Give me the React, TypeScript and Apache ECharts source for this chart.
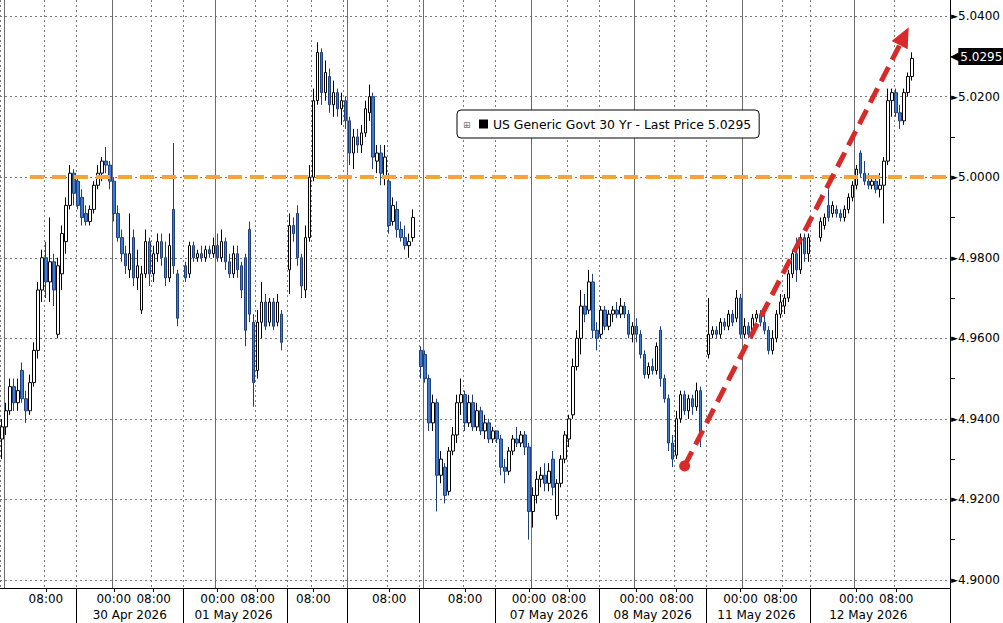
import React, { useEffect, useRef } from "react";
import * as echarts from "echarts";

const SERIES_NAME = "US Generic Govt 30 Yr - Last Price 5.0295";
const FONT = "DejaVu Sans";
const SLOT_COUNT = 238;

// candles: [open, close, low, high]
const session29Apr: number[][] = [
  [4.935, 4.938, 4.93, 4.94], [4.938, 4.942, 4.936, 4.944], [4.942, 4.948, 4.941, 4.95],
  [4.948, 4.944, 4.942, 4.95], [4.944, 4.947, 4.942, 4.95], [4.952, 4.945, 4.944, 4.954],
  [4.945, 4.942, 4.939, 4.947], [4.942, 4.949, 4.941, 4.951], [4.949, 4.957, 4.948, 4.959],
  [4.957, 4.972, 4.955, 4.974], [4.972, 4.98, 4.969, 4.982], [4.98, 4.974, 4.97, 4.984],
  [4.974, 4.979, 4.969, 4.99], [4.979, 4.972, 4.968, 4.981], [4.961, 4.978, 4.96, 4.98],
  [4.976, 4.986, 4.972, 4.988], [4.984, 4.993, 4.981, 4.995], [4.993, 5.001, 4.992, 5.003],
  [5.001, 4.996, 4.993, 5.002], [4.999, 4.993, 4.992, 5.0], [4.995, 4.99, 4.988, 4.997],
  [4.991, 4.989, 4.988, 4.993], [4.989, 4.992, 4.988, 4.993], [4.992, 4.998, 4.991, 4.999],
  [4.998, 5.001, 4.997, 5.003], [5.001, 5.004, 4.999, 5.005], [5.004, 5.003, 5.001, 5.0075],
  [5.003, 4.999, 4.997, 5.004], [4.999, 4.991, 4.989, 5.0], [4.991, 4.985, 4.984, 4.993],
  [4.985, 4.981, 4.979, 4.987], [4.981, 4.978, 4.976, 4.983], [4.977, 4.981, 4.975, 4.991],
  [4.985, 4.975, 4.973, 4.987], [4.975, 4.978, 4.972, 4.982], [4.967, 4.976, 4.966, 4.978],
  [4.976, 4.984, 4.975, 4.987], [4.984, 4.976, 4.973, 4.985], [4.976, 4.981, 4.974, 4.983],
  [4.981, 4.984, 4.979, 4.986], [4.984, 4.98, 4.978, 4.986], [4.98, 4.975, 4.973, 4.984],
  [4.975, 4.983, 4.974, 4.986], [4.992, 4.978, 4.976, 5.0085], [4.976, 4.965, 4.963, 4.977],
];
const session01May: number[][] = [
  [4.978, 4.975, 4.974, 4.979], [4.976, 4.983, 4.975, 4.984], [4.983, 4.98, 4.979, 4.984],
  [4.98, 4.981, 4.979, 4.982], [4.981, 4.98, 4.979, 4.983], [4.98, 4.982, 4.979, 4.983],
  [4.982, 4.981, 4.98, 4.983], [4.981, 4.983, 4.98, 4.985], [4.983, 4.98, 4.979, 4.986],
  [4.98, 4.984, 4.979, 4.987], [4.984, 4.979, 4.977, 4.985], [4.979, 4.976, 4.975, 4.981],
  [4.976, 4.981, 4.975, 4.983], [4.981, 4.977, 4.975, 4.983], [4.978, 4.972, 4.97, 4.979],
  [4.98, 4.962, 4.958, 4.981], [4.987, 4.966, 4.964, 4.989], [4.964, 4.949, 4.943, 4.966],
  [4.952, 4.964, 4.95, 4.967], [4.964, 4.969, 4.96, 4.974], [4.969, 4.963, 4.962, 4.971],
  [4.964, 4.969, 4.963, 4.97], [4.969, 4.963, 4.962, 4.97], [4.964, 4.969, 4.963, 4.971],
  [4.966, 4.959, 4.957, 4.967],
];
const session04May: number[][] = [
  [4.977, 4.988, 4.971, 4.991], [4.988, 4.986, 4.984, 4.99], [4.991, 4.98, 4.978, 4.993],
  [4.98, 4.973, 4.97, 4.981], [4.972, 4.985, 4.97, 4.988], [4.985, 5.0, 4.984, 5.003],
  [5.0, 5.019, 4.999, 5.022], [5.019, 5.031, 5.018, 5.0335], [5.031, 5.021, 5.018, 5.032],
  [5.021, 5.026, 5.019, 5.029], [5.025, 5.018, 5.016, 5.027], [5.018, 5.021, 5.015, 5.024],
  [5.021, 5.017, 5.015, 5.022], [5.017, 5.019, 5.013, 5.021], [5.019, 5.014, 5.012, 5.02],
  [5.014, 5.006, 5.003, 5.015], [5.006, 5.01, 5.002, 5.012], [5.01, 5.008, 5.006, 5.012],
  [5.008, 5.011, 5.006, 5.013], [5.011, 5.017, 5.01, 5.019], [5.016, 5.02, 5.014, 5.023],
  [5.02, 5.005, 5.002, 5.021], [5.004, 5.006, 5.001, 5.008], [5.006, 5.001, 4.998, 5.008],
  [5.0, 5.005, 4.998, 5.008], [4.999, 4.988, 4.986, 5.001], [4.989, 4.993, 4.988, 4.995],
  [4.992, 4.987, 4.985, 4.994], [4.987, 4.985, 4.984, 4.989], [4.985, 4.983, 4.982, 4.988],
  [4.983, 4.984, 4.98, 4.986], [4.985, 4.99, 4.984, 4.992],
];
const session06May: number[][] = [
  [4.957, 4.953, 4.95, 4.958], [4.956, 4.95, 4.949, 4.957], [4.95, 4.939, 4.937, 4.951],
  [4.939, 4.944, 4.937, 4.946], [4.944, 4.926, 4.917, 4.945], [4.926, 4.93, 4.924, 4.932],
  [4.928, 4.921, 4.919, 4.929], [4.922, 4.932, 4.921, 4.933], [4.932, 4.936, 4.931, 4.938],
  [4.936, 4.944, 4.934, 4.946], [4.944, 4.946, 4.941, 4.95], [4.946, 4.939, 4.937, 4.947],
  [4.939, 4.944, 4.938, 4.946], [4.944, 4.938, 4.937, 4.946], [4.938, 4.942, 4.937, 4.944],
  [4.942, 4.937, 4.936, 4.943], [4.937, 4.939, 4.935, 4.941], [4.939, 4.935, 4.934, 4.94],
  [4.935, 4.937, 4.934, 4.938], [4.937, 4.935, 4.934, 4.937], [4.935, 4.928, 4.926, 4.936],
  [4.928, 4.927, 4.924, 4.93], [4.927, 4.932, 4.926, 4.933], [4.932, 4.935, 4.931, 4.936],
  [4.935, 4.934, 4.933, 4.938], [4.934, 4.936, 4.933, 4.937], [4.936, 4.933, 4.931, 4.937],
  [4.933, 4.917, 4.91, 4.934], [4.917, 4.921, 4.913, 4.923], [4.921, 4.925, 4.919, 4.927],
  [4.925, 4.926, 4.923, 4.928], [4.926, 4.924, 4.922, 4.929], [4.924, 4.927, 4.922, 4.929],
  [4.93, 4.923, 4.921, 4.932], [4.916, 4.924, 4.915, 4.925], [4.924, 4.93, 4.923, 4.931],
  [4.93, 4.936, 4.929, 4.937], [4.935, 4.94, 4.933, 4.941], [4.941, 4.953, 4.94, 4.955],
  [4.953, 4.96, 4.952, 4.962], [4.96, 4.968, 4.956, 4.972], [4.968, 4.966, 4.964, 4.971],
  [4.967, 4.974, 4.966, 4.977], [4.974, 4.962, 4.96, 4.976], [4.962, 4.96, 4.957, 4.964],
  [4.961, 4.967, 4.96, 4.968], [4.967, 4.963, 4.962, 4.968], [4.963, 4.966, 4.962, 4.967],
  [4.966, 4.967, 4.964, 4.968], [4.967, 4.966, 4.965, 4.969], [4.966, 4.968, 4.965, 4.97],
  [4.968, 4.966, 4.965, 4.969], [4.966, 4.961, 4.96, 4.967], [4.961, 4.963, 4.959, 4.964],
  [4.963, 4.961, 4.959, 4.965], [4.961, 4.956, 4.955, 4.962], [4.956, 4.951, 4.95, 4.957],
  [4.951, 4.953, 4.95, 4.954], [4.953, 4.952, 4.951, 4.955], [4.952, 4.958, 4.951, 4.959],
  [4.962, 4.95, 4.948, 4.963], [4.95, 4.945, 4.944, 4.951], [4.945, 4.934, 4.932, 4.946],
  [4.934, 4.93, 4.928, 4.936], [4.931, 4.94, 4.93, 4.942], [4.94, 4.946, 4.939, 4.947],
  [4.946, 4.942, 4.941, 4.947], [4.942, 4.945, 4.94, 4.946], [4.945, 4.943, 4.941, 4.946],
  [4.943, 4.947, 4.942, 4.949], [4.947, 4.936, 4.933, 4.948],
];
const session11May: number[][] = [
  [4.956, 4.961, 4.955, 4.97], [4.961, 4.962, 4.96, 4.963], [4.962, 4.961, 4.96, 4.963],
  [4.961, 4.964, 4.96, 4.965], [4.964, 4.963, 4.962, 4.965], [4.963, 4.966, 4.962, 4.967],
  [4.966, 4.964, 4.963, 4.967], [4.965, 4.97, 4.964, 4.972], [4.97, 4.961, 4.96, 4.971],
  [4.961, 4.963, 4.96, 4.965], [4.963, 4.961, 4.96, 4.964], [4.961, 4.965, 4.96, 4.966],
  [4.965, 4.966, 4.964, 4.967], [4.966, 4.964, 4.963, 4.967], [4.964, 4.962, 4.961, 4.966],
  [4.962, 4.957, 4.956, 4.963], [4.957, 4.96, 4.956, 4.962], [4.96, 4.966, 4.959, 4.967],
  [4.966, 4.969, 4.965, 4.971], [4.968, 4.97, 4.966, 4.971], [4.97, 4.976, 4.969, 4.977],
  [4.976, 4.981, 4.975, 4.982], [4.981, 4.977, 4.974, 4.985], [4.977, 4.985, 4.976, 4.986],
  [4.985, 4.981, 4.979, 4.986], [4.981, 4.985, 4.979, 4.986],
];
const session12May: number[][] = [
  [4.985, 4.989, 4.984, 4.99], [4.988, 4.99, 4.987, 4.991], [4.993, 4.99, 4.989, 4.997],
  [4.991, 4.993, 4.99, 4.994], [4.992, 4.991, 4.99, 4.993], [4.991, 4.99, 4.989, 4.992],
  [4.99, 4.992, 4.989, 4.993], [4.992, 4.995, 4.991, 4.996], [4.995, 4.998, 4.994, 4.999],
  [4.998, 5.002, 4.997, 5.003], [5.006, 5.001, 5.0, 5.0067], [5.001, 4.999, 4.998, 5.004],
  [4.999, 4.998, 4.997, 5.001], [4.998, 4.999, 4.997, 5.0], [4.999, 4.997, 4.996, 5.0],
  [4.997, 4.998, 4.995, 5.001], [4.998, 5.004, 4.9885, 5.005], [5.004, 5.019, 5.003, 5.022],
  [5.019, 5.021, 5.015, 5.022], [5.021, 5.016, 5.015, 5.022], [5.016, 5.014, 5.012, 5.018],
  [5.014, 5.021, 5.013, 5.022], [5.021, 5.025, 5.02, 5.026], [5.025, 5.0295, 5.024, 5.031],
];

const sessions = [session29Apr, session01May, session04May, session06May, session11May, session12May];
const sessionStartSlots = [0, 46, 72, 105, 177, 205];

const timeLabelSlots = [11, 28, 38, 54, 64, 78, 97, 116, 132, 142, 159, 169, 185, 195, 214, 224];
const timeLabelTexts = ["08:00", "00:00", "08:00", "00:00", "08:00", "08:00", "08:00", "08:00", "00:00", "08:00", "00:00", "08:00", "00:00", "08:00", "00:00", "08:00"];
const dateLabelSlots = [32, 58, 137, 163, 189, 217];
const dateLabelTexts = ["30 Apr 2026", "01 May 2026", "07 May 2026", "08 May 2026", "11 May 2026", "12 May 2026"];

const midnightLineSlots = [1, 28, 54, 87, 106, 133, 159, 186, 214];
const dottedLineSlots = [0, 11, 19, 38, 46, 64, 72, 78, 86, 97, 105, 116, 124, 142, 150, 169, 177, 196, 203, 224];
const separatorSlots = [19, 46, 72, 87, 105, 124, 150, 177, 203];

const Y_MIN = 4.898;
const Y_MAX = 5.044;
const referenceLevel = 5.0;
const referenceFromSlot = 7;
const referenceToSlot = 237;
const lastPrice = 5.0295;
const arrowFrom = [171, 4.9283];
const arrowTo = [226, 5.035];

function buildOption() {
  const categories = Array.from({ length: SLOT_COUNT }, (_, i) => String(i));
  const candles: any[] = Array.from({ length: SLOT_COUNT }, () => "-");
  sessions.forEach((s, k) => {
    s.forEach((c, j) => {
      candles[sessionStartSlots[k] + j] = c;
    });
  });
  const labelMap = new Map<number, string>();
  timeLabelSlots.forEach((s, i) => labelMap.set(s, timeLabelTexts[i]));
  dateLabelSlots.forEach((s, i) => labelMap.set(s, "\n" + dateLabelTexts[i]));
  // blank end label so that no real label is treated as the axis' last label
  labelMap.set(SLOT_COUNT - 1, "");

  const isMajor = (v: number) => Math.abs(v * 50 - Math.round(v * 50)) < 1e-6;

  return {
    animation: false,
    backgroundColor: "#ffffff",
    textStyle: { fontFamily: FONT },
    grid: { left: 0, right: 50, top: 0, bottom: 35, containLabel: false },
    legend: {
      show: true,
      left: 457,
      top: 110,
      selectedMode: false,
      data: [{ name: SERIES_NAME, icon: "rect", itemStyle: { color: "#000000", borderWidth: 0 } }],
      itemWidth: 9,
      itemHeight: 9,
      textStyle: { fontFamily: FONT, fontSize: 12.4, color: "#000" },
      backgroundColor: "#ffffff",
      borderColor: "#000000",
      borderWidth: 1,
      borderRadius: 4,
      padding: [8, 8, 8, 22],
    },
    graphic: [
      {
        type: "text",
        left: 463,
        top: 120,
        z: 100,
        style: { text: "⊞", font: `9px '${FONT}'`, fill: "#777777" },
      },
    ],
    xAxis: [
      {
        type: "category",
        data: categories,
        position: "bottom",
        boundaryGap: true,
        axisLine: { show: true, lineStyle: { color: "#000", width: 1 } },
        axisTick: {
          show: true,
          alignWithLabel: true,
          length: 4,
          interval: (i: number) => timeLabelSlots.includes(i),
          lineStyle: { color: "#000" },
        },
        axisLabel: {
          show: true,
          interval: (i: number) => labelMap.has(i),
          formatter: (_v: string, i: number) => labelMap.get(i) || "",
          fontFamily: FONT,
          fontSize: 12,
          color: "#000",
          margin: 3,
          lineHeight: 16,
        },
        splitLine: {
          show: true,
          interval: (i: number) => midnightLineSlots.includes(i),
          lineStyle: { color: "#6b6b6b", width: 1, type: "solid" },
        },
      },
      {
        type: "category",
        data: categories,
        position: "bottom",
        boundaryGap: true,
        axisLine: { show: false },
        axisLabel: { show: false },
        axisTick: {
          show: true,
          alignWithLabel: false,
          length: 35,
          interval: (i: number) => separatorSlots.includes(i),
          lineStyle: { color: "#000" },
        },
        splitLine: {
          show: true,
          interval: (i: number) => dottedLineSlots.includes(i),
          lineStyle: { color: "#7a7a7a", width: 1, type: [2, 3] },
        },
      },
    ],
    yAxis: {
      type: "value",
      position: "right",
      min: Y_MIN,
      max: Y_MAX,
      splitNumber: 7,
      minInterval: 0.02,
      maxInterval: 0.02,
      axisLine: { show: true, lineStyle: { color: "#000", width: 1 } },
      axisTick: { show: false },
      minorTick: { show: true, splitNumber: 2, length: 5, lineStyle: { color: "#000" } },
      axisLabel: {
        show: true,
        margin: 1,
        showMinLabel: false,
        showMaxLabel: false,
        formatter: (v: number) => (isMajor(v) ? `{t|►}{v|${v.toFixed(4)}}` : ""),
        rich: {
          t: { fontSize: 9, color: "#000", fontFamily: FONT, padding: [0, 0, 0, 0] },
          v: { fontSize: 12, color: "#000", fontFamily: FONT },
        },
      },
      splitLine: {
        show: true,
        showMinLine: false,
        showMaxLine: false,
        lineStyle: { color: "#7a7a7a", width: 1, type: [2, 3] },
      },
    },
    series: [
      {
        name: SERIES_NAME,
        type: "candlestick",
        xAxisIndex: 0,
        yAxisIndex: 0,
        data: candles,
        barWidth: 3,
        itemStyle: {
          color: "#ffffff",
          color0: "#3a7bd5",
          borderColor: "#000000",
          borderColor0: "#1f3f78",
          borderWidth: 1,
        },
        markLine: {
          silent: true,
          symbol: ["none", "none"],
          animation: false,
          data: [
            [
              {
                coord: [referenceFromSlot, referenceLevel],
                lineStyle: { color: "#f2a53c", width: 4, type: [14, 8], opacity: 1 },
                label: { show: false },
              },
              { coord: [referenceToSlot, referenceLevel] },
            ],
            {
              yAxis: lastPrice,
              lineStyle: { color: "rgba(0,0,0,0)", width: 1, opacity: 1 },
              label: {
                show: true,
                position: "end",
                distance: 0,
                opacity: 1,
                formatter: () => `{a|◀}{b|${lastPrice.toFixed(4)}}`,
                rich: {
                  a: { color: "#000", fontSize: 12, fontFamily: FONT, padding: [0, -1, 0, 0] },
                  b: {
                    color: "#fff",
                    backgroundColor: "#000",
                    fontSize: 12,
                    fontFamily: FONT,
                    padding: [3, 4, 2, 2],
                  },
                },
              },
            },
          ],
        },
      },
      {
        name: "trend",
        type: "line",
        data: [],
        silent: true,
        markLine: {
          silent: true,
          animation: false,
          label: { show: false },
          lineStyle: { color: "#d62b28", width: 5, type: [16, 8], opacity: 1 },
          data: [
            [
              { coord: arrowFrom, symbol: "circle", symbolSize: 11 },
              { coord: arrowTo, symbol: "triangle", symbolSize: [18, 20] },
            ],
          ],
        },
      },
    ],
  };
}

export default function App() {
  const ref = useRef<HTMLDivElement>(null);
  useEffect(() => {
    if (!ref.current) return;
    const chart = echarts.init(ref.current, null, { renderer: "svg" });
    chart.setOption(buildOption() as any);
    return () => chart.dispose();
  }, []);
  return (
    <div
      ref={ref}
      style={{ position: "fixed", left: 0, top: 0, width: 1003, height: 623, background: "#fff" }}
    />
  );
}
